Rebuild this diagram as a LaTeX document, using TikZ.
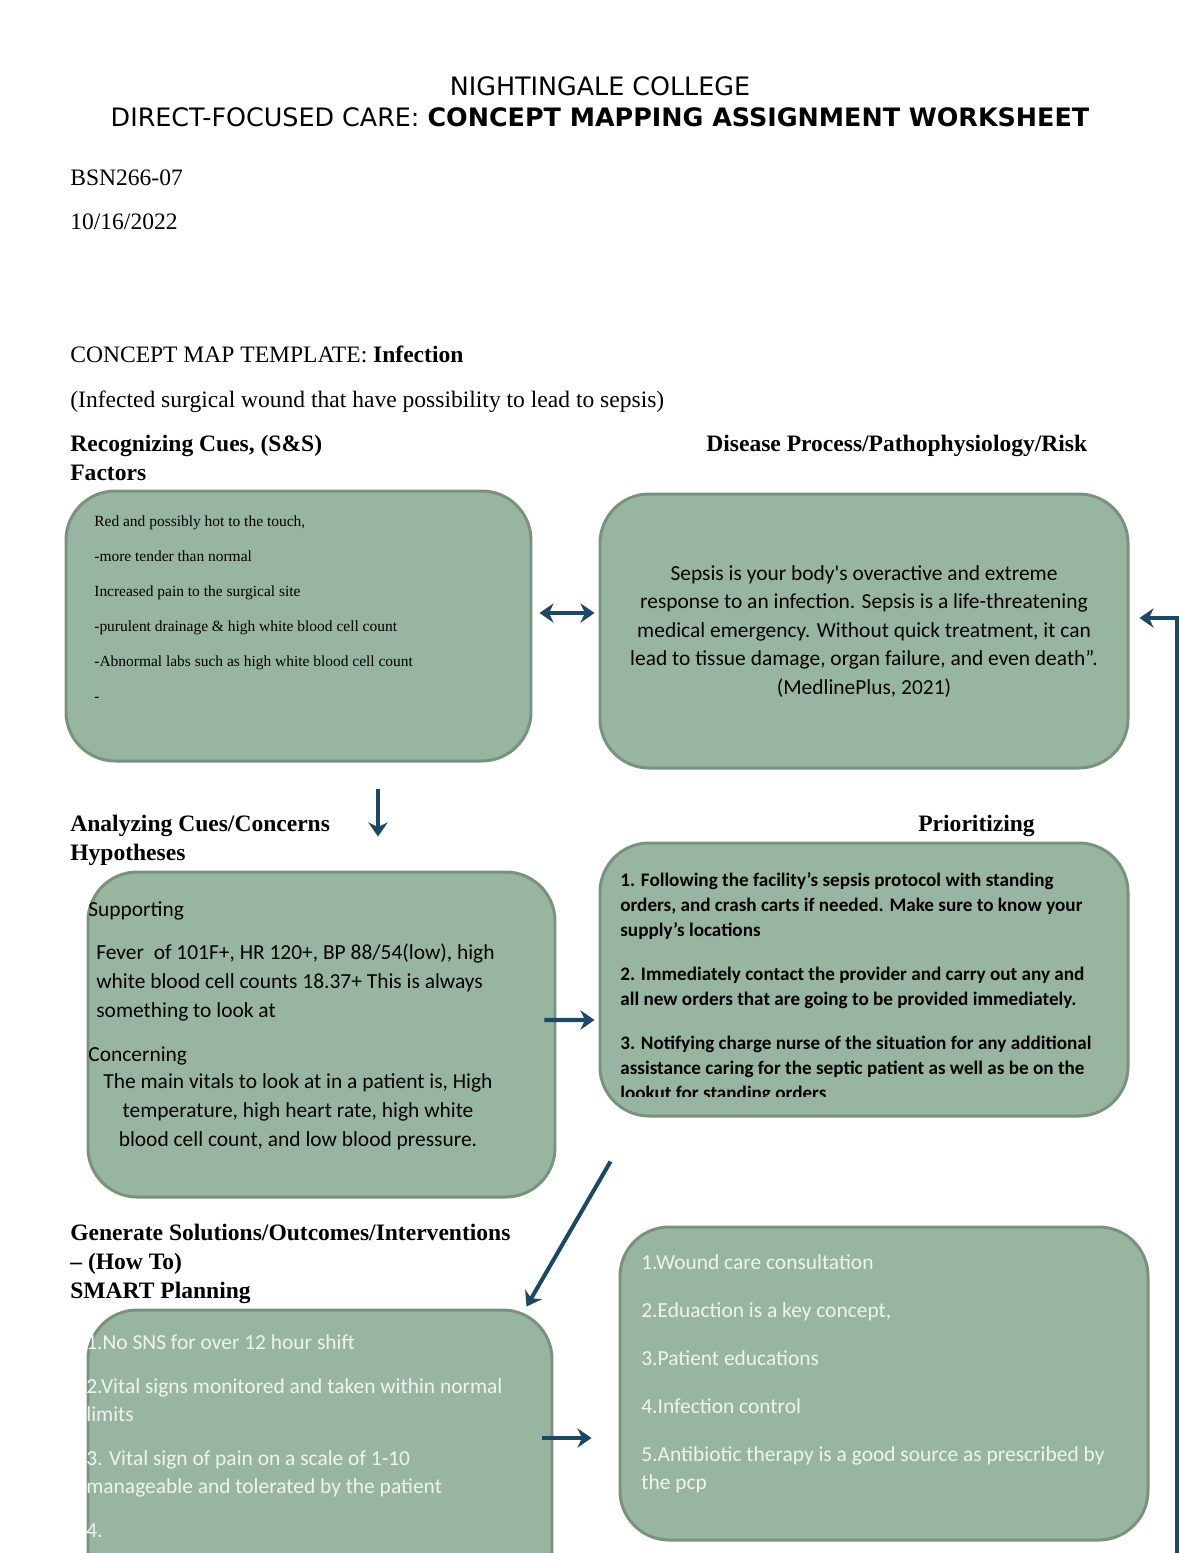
\documentclass[tikz,border=0pt]{standalone}
\usepackage{fontspec}
\setmainfont{Liberation Serif}
\newfontfamily\calibfont{Carlito}
\newfontfamily\titlefont{DejaVu Sans}
\usetikzlibrary{arrows.meta, positioning, fit, calc}
\definecolor{sage}{RGB}{152,181,161}
\definecolor{sageline}{RGB}{120,146,124}
\definecolor{navy}{RGB}{27,73,101}
\definecolor{paletext}{RGB}{240,244,240}

\begin{document}
\begin{tikzpicture}[
    x=0.02cm, y=-0.02cm,
    card/.style={rectangle, draw=sageline, fill=sage, line width=1.7pt, rounded corners=28pt, inner sep=0pt},
    head/.style={anchor=base west, inner sep=0pt, align=left, font=\fontsize{13.4}{16.5}\selectfont\bfseries},
    plain/.style={anchor=base west, inner sep=0pt, font=\fontsize{13.4}{15}\selectfont},
    cuetext/.style={anchor=base west, inner sep=0pt, align=left, font=\fontsize{8.8}{19.9}\selectfont},
    bodytext/.style={inner sep=0pt, font=\calibfont\fontsize{12.2}{16.5}\selectfont},
    pale/.style={anchor=base west, inner sep=0pt, align=left, text=paletext, font=\calibfont\fontsize{12.2}{15.9}\selectfont},
    arrow/.style={draw=navy, line width=2.3pt, -{Stealth[length=8pt, width=11pt]}}
]
\clip (0,0) rectangle (1200,1553);

% Title block
\node[anchor=base, inner sep=0pt, font=\titlefont\fontsize{14.45}{16}\selectfont] (college) at (600,95) {NIGHTINGALE COLLEGE};
\node[anchor=base, inner sep=0pt, font=\titlefont\fontsize{14.45}{16}\selectfont] (worksheet) at (600,126) {DIRECT-FOCUSED CARE: \textbf{CONCEPT MAPPING ASSIGNMENT WORKSHEET}};
\node[plain] (course) at (70,185) {BSN266-07};
\node[plain] (date) at (70,229) {10/16/2022};
\node[plain] (template) at (70,362) {CONCEPT MAP TEMPLATE: \textbf{Infection}};
\node[plain] (subject) at (70,407) {(Infected surgical wound that have possibility to lead to sepsis)};

% Headings (multi-line nodes sit on their last line)
\node[head] (cueshead) at (70,480) {Recognizing Cues, (S\&S)\\Factors};
\node[head] (diseasehead) at (706,451) {Disease Process/Pathophysiology/Risk};
\node[head] (analyzehead) at (70,860) {Analyzing Cues/Concerns\\Hypotheses};
\node[head] (priorityhead) at (918,831) {Prioritizing};
\node[head] (smarthead) at (70,1298) {Generate Solutions/Outcomes/Interventions\\– (How To)\\SMART Planning};

% Boxes
\node[card, fit={(66,491) (531,761)}] (cues) {};
\node[card, fit={(600,494) (1128,768)}] (disease) {};
\node[card, fit={(88,872) (555,1197)}] (analyze) {};
\node[card, fit={(600,843) (1128,1116)}] (priority) {};
\node[card, fit={(88,1310) (552,1620)}] (smart) {};
\node[card, fit={(620,1227) (1148,1540)}] (evaluate) {};

% Box texts
\node[cuetext] (cuelist) at (94,701) {Red and possibly hot to the touch,\\-more tender than normal\\Increased pain to the surgical site\\-purulent drainage \& high white blood cell count\\-Abnormal labs such as high white blood cell count\\-};
\node[bodytext, anchor=base, align=center, font=\calibfont\fontsize{12.2}{16.2}\selectfont] (sepsis) at (864,694) {Sepsis is your body's overactive and extreme\\response to an infection. Sepsis is a life-threatening\\medical emergency. Without quick treatment, it can\\lead to tissue damage, organ failure, and even death”.\\(MedlinePlus, 2021)};
\node[bodytext, anchor=base west] (suplabel) at (88,916) {Supporting};
\node[bodytext, anchor=base west, align=left] (supbody) at (96,1017) {Fever\ \ of 101F+, HR 120+, BP 88/54(low), high\\white blood cell counts 18.37+ This is always\\something to look at};
\node[bodytext, anchor=base west] (conlabel) at (88,1061) {Concerning};
\node[bodytext, anchor=base, align=center] (conbody) at (298,1146) {The main vitals to look at in a patient is, High\\temperature, high heart rate, high white\\blood cell count, and low blood pressure.};
\begin{scope}
\clip (600,843) rectangle (1128,1096);
\node[anchor=base west, inner sep=0pt, align=left, font=\calibfont\bfseries\fontsize{10.9}{14.2}\selectfont] (prioritylist) at (620,1099) {1. Following the facility’s sepsis protocol with standing\\orders, and crash carts if needed. Make sure to know your\\supply’s locations\\[10.8pt]2. Immediately contact the provider and carry out any and\\all new orders that are going to be provided immediately.\\[10.8pt]3. Notifying charge nurse of the situation for any additional\\assistance caring for the septic patient as well as be on the\\lookut for standing orders};
\end{scope}
\node[pale] (smartlist) at (86,1537) {1.No SNS for over 12 hour shift\\[9.1pt]2.Vital signs monitored and taken within normal\\limits\\[9.1pt]3. Vital sign of pain on a scale of 1-10\\manageable and tolerated by the patient\\[9.1pt]4.};
\node[pale] (evallist) at (641,1489) {1.Wound care consultation\\[11.4pt]2.Eduaction is a key concept,\\[11.4pt]3.Patient educations\\[11.4pt]4.Infection control\\[11.4pt]5.Antibiotic therapy is a good source as prescribed by\\the pcp};

% Connections
\coordinate (loopfoot) at (1177,1560);
\draw[arrow, {Stealth[length=8pt, width=11pt]}-{Stealth[length=8pt, width=11pt]}] ($(cues.east)+(7,-13)$) -- ($(disease.west)+(-4,-18)$);
\draw[arrow] ($(cues.south)+(79.5,26)$) -- ($(analyze.north)+(56.5,-34)$);
\draw[arrow] ($(analyze.east)+(-12,-14.5)$) -- ($(priority.west)+(-4,40.5)$);
\draw[arrow] ($(priority.south west)+(12,44)$) -- ($(smart.north east)+(-27,-2)$);
\draw[arrow] ($(smart.east)+(-11,-27)$) -- ($(evaluate.west)+(-27,54.5)$);
\draw[arrow] (loopfoot) |- ($(disease.east)+(10,-13)$);
\end{tikzpicture}
\end{document}
